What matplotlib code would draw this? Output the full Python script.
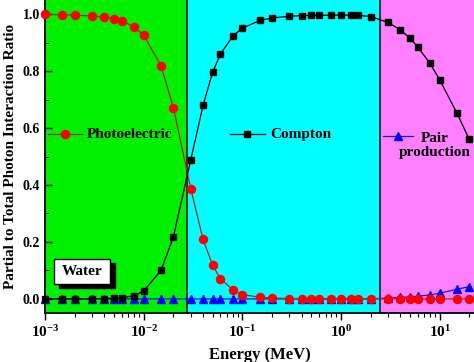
import numpy as np
import matplotlib
matplotlib.use("Agg")
import matplotlib.pyplot as plt
from matplotlib.patches import Rectangle

# Photon energies (MeV)
energy = [0.001, 0.0015, 0.002, 0.003, 0.004, 0.005, 0.006, 0.008, 0.01, 0.015,
          0.02, 0.03, 0.04, 0.05, 0.06, 0.08, 0.1, 0.15, 0.2, 0.3, 0.4, 0.5,
          0.6, 0.8, 1.0, 1.25, 1.5, 2.0, 3.0, 4.0, 5.0, 6.0, 8.0, 10.0, 15.0, 20.0]

photoelectric = [1.0, 0.998, 0.997, 0.994, 0.99, 0.985, 0.977, 0.955, 0.926, 0.819,
                 0.672, 0.387, 0.209, 0.118, 0.071, 0.032, 0.015, 0.006, 0.003, 0.001, 0.0, 0.0,
                 0.0, 0.0, 0.0, 0.0, 0.0, 0.0, 0.0, 0.0, 0.0, 0.0, 0.0, 0.0, 0.0, 0.0]

compton = [0.0, 0.0, 0.0, 0.0, 0.001, 0.002, 0.004, 0.011, 0.028, 0.10,
           0.218, 0.488, 0.68, 0.796, 0.86, 0.923, 0.951, 0.978, 0.987, 0.993, 0.995, 0.996,
           0.996, 0.997, 0.997, 0.997, 0.996, 0.992, 0.971, 0.945, 0.916, 0.885, 0.827, 0.77, 0.652, 0.56]

pair = [0.0] * 28 + [0.003, 0.005, 0.007, 0.009, 0.014, 0.02, 0.034, 0.043]

# region boundaries (MeV)
x_lo, b1, b2, x_hi = 1e-3, 0.0275, 2.5, 22.3

plt.rcParams['font.family'] = ['Liberation Serif', 'DejaVu Serif']
plt.rcParams['font.weight'] = 'bold'
plt.rcParams['mathtext.fontset'] = 'custom'
plt.rcParams['mathtext.rm'] = 'Liberation Serif:bold'
plt.rcParams['mathtext.it'] = 'Liberation Serif:bold'
plt.rcParams['mathtext.bf'] = 'Liberation Serif:bold'

fig = plt.figure(figsize=(4.74, 3.62), dpi=100)
ax = fig.add_axes([0.095, 0.135, 0.905, 0.865])

ax.axvspan(x_lo, b1, color='#00f000', zorder=0)
ax.axvspan(b1, b2, color='#00ffff', zorder=0)
ax.axvspan(b2, x_hi, color='#ff80ff', zorder=0)
ax.axvline(b1, color='#1a2a2a', lw=1.3, zorder=1)
ax.axvline(b2, color='#1a2a2a', lw=1.3, zorder=1)

ax.plot(energy, pair, color='#1010ff', lw=0.9, marker='^', ms=6,
        mfc='#0000ff', mec='#0000ff', zorder=3, clip_on=False)
ax.plot(energy, photoelectric, color='#b02818', lw=0.9, marker='o', ms=5.8,
        mfc='#ff0000', mec='#ff0000', zorder=4, clip_on=False)
ax.plot(energy, compton, color='black', lw=0.9, marker='s', ms=4.8,
        mfc='black', mec='black', zorder=5, clip_on=False)

ax.set_xscale('log')
ax.set_xlim(x_lo, x_hi)
ax.set_ylim(-0.05, 1.05)
ax.set_yticks([0.0, 0.2, 0.4, 0.6, 0.8, 1.0])
ax.set_yticks(np.arange(0.1, 1.0, 0.2), minor=True)
ax.set_xticks([1e-3, 1e-2, 1e-1, 1e0, 1e1])
ax.set_xticklabels([r'$10^{-3}$', r'$10^{-2}$', r'$10^{-1}$', r'$10^{0}$', r'$10^{1}$'])
ax.tick_params(axis='x', which='both', direction='out', labelsize=11, pad=3)
ax.tick_params(axis='x', which='major', length=5, width=1)
ax.tick_params(axis='x', which='minor', length=3, width=0.8)
ax.tick_params(axis='y', which='both', direction='in', labelsize=10)
ax.tick_params(axis='y', which='major', length=5, width=1)
ax.tick_params(axis='y', which='minor', length=3, width=0.8)
for s in ax.spines.values():
    s.set_linewidth(1.3)
ax.spines['top'].set_visible(False)
ax.spines['right'].set_visible(False)

ax.set_xlabel('Energy (MeV)', fontsize=12, fontweight='bold', labelpad=5)
ax.set_ylabel('Partial to Total Photon Interaction Ratio', fontsize=11,
              fontweight='bold', labelpad=4)

# inline legend entries
def legend_entry(x0, x1, y, marker, color, lc, ms):
    ax.plot([x0, x1], [y, y], color=lc, lw=0.9, zorder=6)
    ax.plot([np.sqrt(x0 * x1)], [y], marker=marker, color=color, ms=ms, zorder=6)

legend_entry(1.07e-3, 2.37e-3, 0.579, 'o', '#ff0000', '#b02818', 5.8)
ax.text(2.66e-3, 0.579, 'Photoelectric', fontsize=11, fontweight='bold', va='center')
legend_entry(7.5e-2, 1.69e-1, 0.579, 's', 'black', 'black', 4.8)
ax.text(1.9e-1, 0.579, 'Compton', fontsize=11, fontweight='bold', va='center')
legend_entry(2.66, 5.35, 0.572, '^', '#0000ff', '#1010ff', 6)
ax.text(8.9, 0.539, 'Pair\nproduction', fontsize=11, fontweight='bold',
        ha='center', va='center', linespacing=1.1)

# sample label box with shadow
tr = ax.transAxes
ax.add_patch(Rectangle((0.033, 0.080), 0.131, 0.080, transform=tr,
                       facecolor='black', edgecolor='black', zorder=7))
ax.add_patch(Rectangle((0.021, 0.093), 0.131, 0.080, transform=tr,
                       facecolor='white', edgecolor='black', lw=1, zorder=8))
ax.text(0.0865, 0.133, 'Water', transform=tr, fontsize=11, fontweight='bold',
        ha='center', va='center', zorder=9)

fig.savefig('out.png', dpi=100)
